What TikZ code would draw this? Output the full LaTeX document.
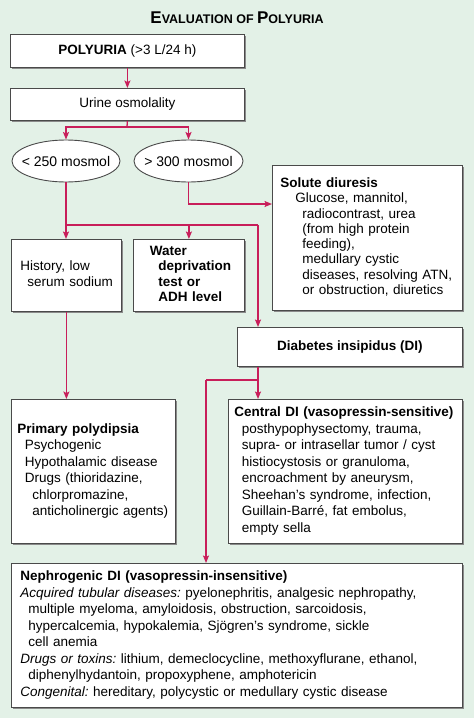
\documentclass[tikz,border=0pt]{standalone}
\usepackage{fontspec}
\setmainfont{Liberation Sans}
\usetikzlibrary{arrows.meta,shapes.geometric,shadows}
\definecolor{bgcol}{HTML}{E3F1E7}
\definecolor{conncol}{HTML}{C81E5A}
\definecolor{boxline}{HTML}{4A4A4A}
\definecolor{shadowcol}{HTML}{8A8A8A}
\newenvironment{txtlines}{\begin{tabular}{@{}l@{}}}{\end{tabular}}
\newcommand\fsA{\fontsize{13.5}{16.5}\selectfont}
\newcommand\fsB{\fontsize{13.5}{15.3}\selectfont}
\frenchspacing
\begin{document}
\begin{tikzpicture}[x=1pt,y=-1pt,
  boxbase/.style={draw=boxline, fill=white, line width=0.8pt,
    drop shadow={shadow xshift=1.3pt, shadow yshift=-1.3pt, fill=shadowcol, opacity=1},
    inner xsep=5pt, inner ysep=0pt, font=\fsA},
  lbox/.style={boxbase, anchor=north west, align=left},
  cbox/.style={boxbase, anchor=north west, align=center},
  oval/.style={ellipse, draw=boxline, fill=white, line width=0.9pt, inner xsep=-8pt, inner ysep=0pt, font=\fontsize{14}{16}\selectfont},
  conn/.style={draw=conncol, line width=1.3pt},
  arr/.style={conn, -{Stealth[length=7.5pt,width=6pt,inset=1.5pt]}}
]
\fill[bgcol] (0,0) rectangle (474,718);
\useasboundingbox (0,0) rectangle (474,718);

\node[anchor=base] (title) at (237,23.5)
  {\bfseries{\fontsize{17}{19}\selectfont E}{\fontsize{12.5}{14}\selectfont VALUATION OF }{\fontsize{17}{19}\selectfont P}{\fontsize{12.5}{14}\selectfont OLYURIA}};

\node[cbox, minimum width=234pt, minimum height=33pt] (poly) at (10,34)
  {\textbf{POLYURIA} (>3 L/24 h)};
\node[cbox, minimum width=234pt, minimum height=32pt] (osm) at (10,88)
  {Urine osmolality};

\node[oval, minimum width=108pt, minimum height=42pt] (lo) at (66,161) {< 250 mosmol};
\node[oval, minimum width=109pt, minimum height=42pt] (hi) at (188.5,161) {> 300 mosmol};

\node[lbox, minimum width=190pt, minimum height=145pt, text width=180pt, font=\fsB] (solute) at (272,165)
  {\begin{txtlines}
  \hspace*{3pt}\textbf{Solute diuresis}\\
  \hspace*{18pt}Glucose, mannitol,\\
  \hspace*{25pt}radiocontrast, urea\\
  \hspace*{25pt}(from high protein\\
  \hspace*{25pt}feeding),\\
  \hspace*{25pt}medullary cystic\\
  \hspace*{25pt}diseases, resolving ATN,\\
  \hspace*{25pt}or obstruction, diuretics
  \end{txtlines}};

\node[lbox, minimum width=110pt, minimum height=72pt, text width=100pt, font=\fsB] (hist) at (11,239)
  {\begin{txtlines}
  \hspace*{4pt}History, low\\
  \hspace*{11pt}serum sodium
  \end{txtlines}};

\node[lbox, minimum width=111pt, minimum height=72pt, text width=101pt, font=\fsB] (water) at (133,239)
  {\begin{txtlines}
  \hspace*{11.5pt}\textbf{Water}\\
  \hspace*{20pt}\textbf{deprivation}\\
  \hspace*{20pt}\textbf{test or}\\
  \hspace*{20pt}\textbf{ADH level}
  \end{txtlines}};

\node[cbox, minimum width=225pt, minimum height=39pt] (di) at (237,327)
  {\textbf{Diabetes insipidus (DI)}};

\node[lbox, minimum width=164pt, minimum height=144pt, text width=154pt] (prim) at (11,399)
  {\begin{txtlines}
  \hspace*{1pt}\textbf{Primary polydipsia}\\
  \hspace*{8.5pt}Psychogenic\\
  \hspace*{8.5pt}Hypothalamic disease\\
  \hspace*{8.5pt}Drugs (thioridazine,\\
  \hspace*{16pt}chlorpromazine,\\
  \hspace*{16pt}anticholinergic agents)
  \end{txtlines}};

\node[lbox, minimum width=234pt, minimum height=144pt, text width=224pt] (central) at (228,399)
  {\begin{txtlines}
  \hspace*{1pt}\textbf{Central DI (vasopressin-sensitive)}\\
  \hspace*{8.5pt}posthypophysectomy, trauma,\\
  \hspace*{8.5pt}supra- or intrasellar tumor / cyst\\
  \hspace*{8.5pt}histiocystosis or granuloma,\\
  \hspace*{8.5pt}encroachment by aneurysm,\\
  \hspace*{8.5pt}Sheehan's syndrome, infection,\\
  \hspace*{8.5pt}Guillain-Barré, fat embolus,\\
  \hspace*{8.5pt}empty sella
  \end{txtlines}};

\node[lbox, minimum width=451pt, minimum height=144pt, text width=441pt] (neph) at (11,563)
  {\begin{txtlines}
  \hspace*{4pt}\textbf{Nephrogenic DI (vasopressin-insensitive)}\\
  \hspace*{4pt}\textit{Acquired tubular diseases:} pyelonephritis, analgesic nephropathy,\\
  \hspace*{12pt}multiple myeloma, amyloidosis, obstruction, sarcoidosis,\\
  \hspace*{12pt}hypercalcemia, hypokalemia, Sjögren's syndrome, sickle\\
  \hspace*{12pt}cell anemia\\
  \hspace*{4pt}\textit{Drugs or toxins:} lithium, demeclocycline, methoxyflurane, ethanol,\\
  \hspace*{12pt}diphenylhydantoin, propoxyphene, amphotericin\\
  \hspace*{4pt}\textit{Congenital:} hereditary, polycystic or medullary cystic disease
  \end{txtlines}};

\coordinate (s1) at (127,127);
\coordinate (j2) at (258,225);
\coordinate (j3) at (258,380);
\coordinate (n1) at (206,380);

\draw[arr] (poly.south) -- (osm.north);
\draw[conn] (osm.south) -- (s1);
\draw[arr] (s1) -| (lo.north);
\draw[arr] (s1) -| (hi.north);
\draw[arr] (hi.south) |- (solute.west |- 0,204);
\draw[arr] (lo.south) -- (lo.south |- hist.north);
\draw[conn] (lo.south |- j2) -- (j2);
\draw[arr] (water.north |- j2) -- (water.north);
\draw[arr] (j2) -- (j2 |- di.north);
\draw[arr] (hist.south) -- (hist.south |- prim.north);
\draw[conn] (j2 |- di.south) -- (j3);
\draw[arr] (j3) -- (j3 |- central.north);
\draw[conn] (j3) -- (n1);
\draw[arr] (n1) -- (n1 |- neph.north);
\end{tikzpicture}
\end{document}
